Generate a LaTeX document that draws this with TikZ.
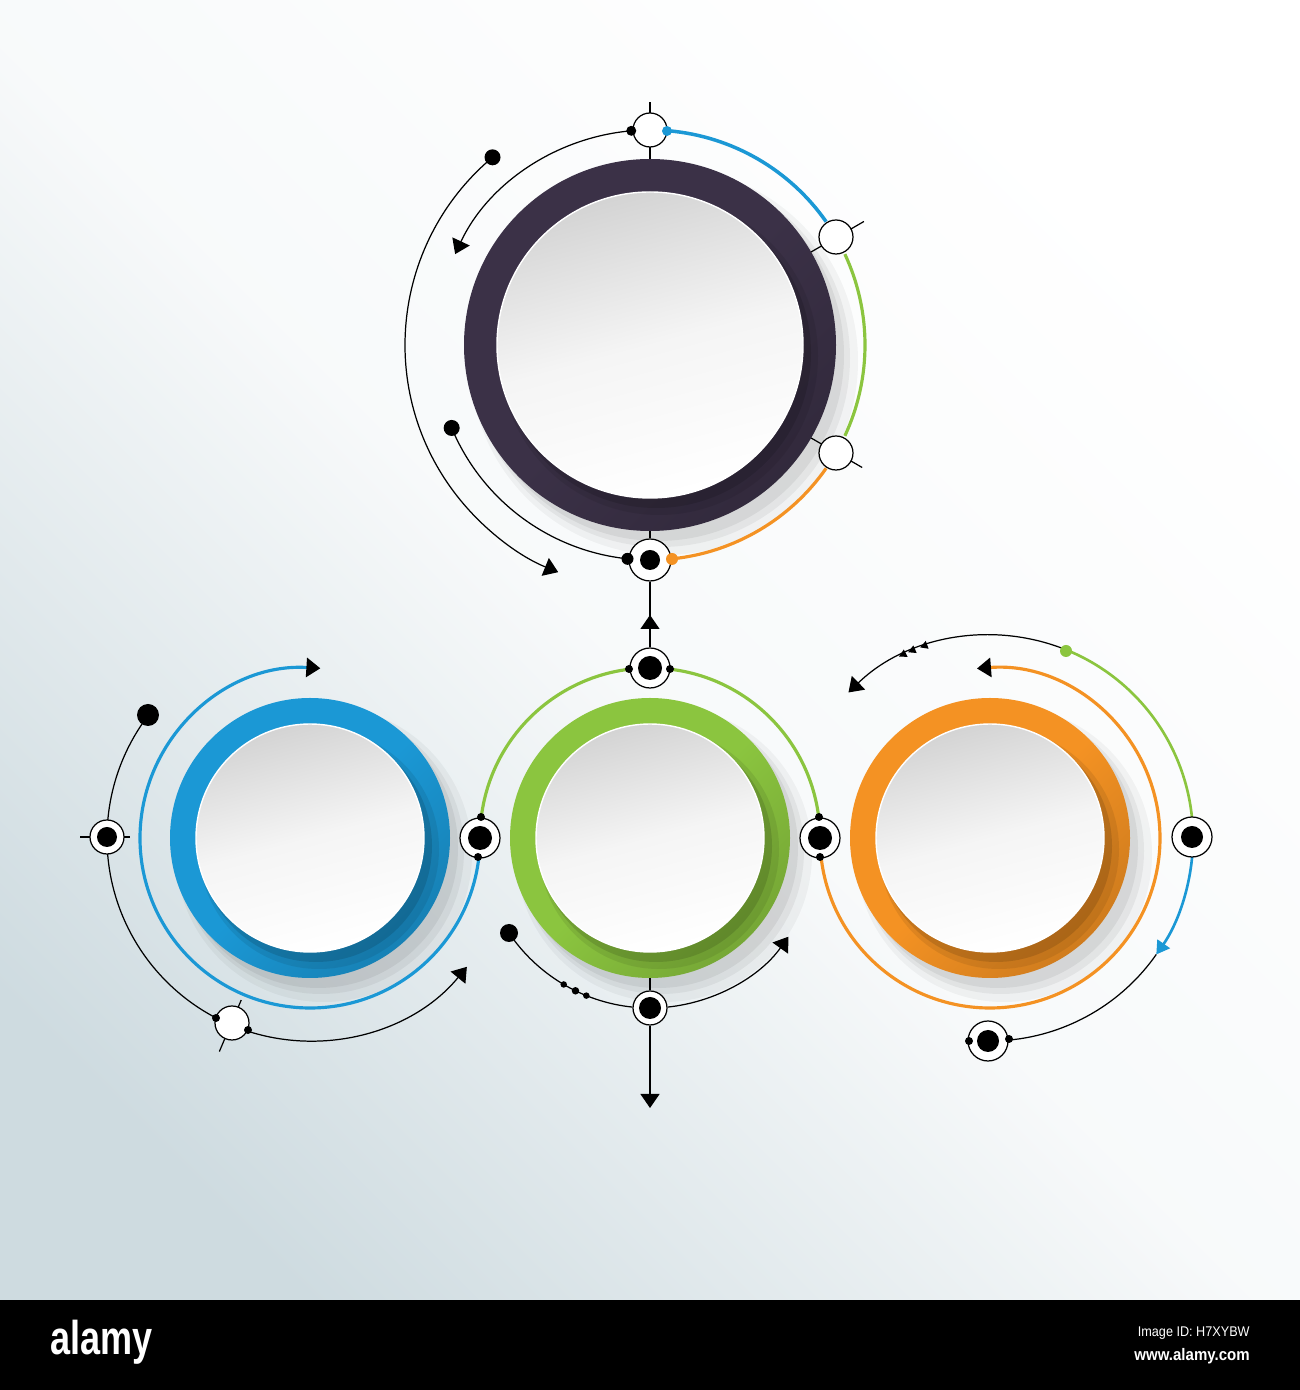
\documentclass[tikz,border=0pt]{standalone}
\usepackage{fontspec}
\setmainfont{Liberation Sans}
\usetikzlibrary{arrows.meta,decorations.markings}
\definecolor{ringdark}{RGB}{59,49,71}
\definecolor{cblue}{RGB}{27,152,213}
\definecolor{cgreen}{RGB}{139,197,63}
\definecolor{corange}{RGB}{244,146,35}
\definecolor{bgc}{RGB}{206,219,224}
\pgfdeclarelayer{bg}
\pgfdeclarelayer{lines}
\pgfsetlayers{bg,lines,main}
\begin{document}
\begin{tikzpicture}[x=0.02cm,y=0.02cm,
  wire/.style={line width=0.7pt, black},
  tri/.style={-{Triangle[length=0.28cm,width=0.38cm,color=black]}},
  hubo/.style={circle, draw=black, line width=0.7pt, fill=white, inner sep=0pt, minimum size=0.68cm},
  hub/.style 2 args={circle, draw=black, line width=0.7pt, fill=white, inner sep=0pt, minimum size=#1,
     path picture={\fill[black] (path picture bounding box.center) circle[radius=#2];}},
  dot/.style={circle, fill=black, inner sep=0pt, minimum size=#1},
]
\useasboundingbox (0,0) rectangle (1300,1390);
% centres
\coordinate (cT) at (650,1045);
\coordinate (cB) at (310,552);
\coordinate (cG) at (650,552);
\coordinate (cO) at (990,552);
\coordinate (tArrow) at (650,775);
\coordinate (gArrow) at (650,282);

% ---------- nodes ----------
\node[hubo] (T1) at (650,1260) {};
\node[hubo] (T2) at (836,1153) {};
\node[hubo] (T3) at (836,937) {};
\node[hub={0.84cm}{10}] (T4) at (650,830) {};
\node[hub={0.8cm}{12}] (G1) at (650,722) {};
\node[hub={0.8cm}{12}] (G2) at (480,552) {};
\node[hub={0.8cm}{12}] (G3) at (820,552) {};
\node[hub={0.68cm}{11}] (G4) at (650,382) {};
\node[hub={0.68cm}{10}] (L1) at (107,553) {};
\node[hubo] (L2) at (232,367) {};
\node[hub={0.8cm}{11}] (R1) at (1192,553) {};
\node[hub={0.8cm}{11}] (R2) at (988,349) {};

% small dots
\node[dot=0.2cm] (d1) at ([shift={(95:215)}]cT) {};
\node[dot=0.2cm, fill=cblue] (d2) at (667,1259) {};
\node[dot=0.24cm] (d3) at ([shift={(264:215)}]cT) {};
\node[dot=0.24cm, fill=corange] (d4) at (672,831) {};
\node[dot=0.16cm] (d5) at (629,721) {};
\node[dot=0.16cm] (d6) at (670,721) {};
\node[dot=0.16cm] (d7) at (481,573) {};
\node[dot=0.16cm] (d8) at (478,533) {};
\node[dot=0.16cm] (d9) at (819,573) {};
\node[dot=0.16cm] (d10) at (820,533) {};
\node[dot=0.16cm] (d11) at (216,372) {};
\node[dot=0.16cm] (d12) at (248,360) {};
\node[dot=0.16cm] (d13) at (969,349) {};
\node[dot=0.16cm] (d14) at (1009,351) {};
\node[dot=0.32cm] (TL1) at ([shift={(130:245)}]cT) {};
\node[dot=0.32cm] (TL2) at ([shift={(202.7:215)}]cT) {};
\node[dot=0.36cm] (Gd) at (509,457) {};
\node[dot=0.44cm] (Ld) at (148,675) {};
\node[dot=0.24cm, fill=cgreen] (Od) at (1066,739) {};
\node[dot=0.13cm] (s1) at ([shift={(239.5:170)}]cG) {};
\node[dot=0.15cm] (s2) at ([shift={(244:170)}]cG) {};
\node[dot=0.13cm] (s3) at ([shift={(248:170)}]cG) {};

% ---------- footer text ----------
\node[anchor=base west, text=white, inner sep=0pt, font=\bfseries\fontsize{27pt}{27pt}\selectfont] (logo) at (50,35) {\scalebox{0.76}[1]{alamy}};
\node[anchor=base east, text=white, inner sep=0pt, font=\fontsize{8pt}{8pt}\selectfont] (imgid) at (1250,53) {\scalebox{0.9}[1]{Image ID: H7XYBW}};
\node[anchor=base east, text=white, inner sep=0pt, font=\bfseries\fontsize{9.5pt}{9.5pt}\selectfont] (url) at (1250,30) {\scalebox{0.9}[1]{www.alamy.com}};

% ---------- background and rings ----------
\begin{pgfonlayer}{bg}
\shade[top color=white, bottom color=bgc, middle color=white!85!bgc, shading angle=-45] (0,0) rectangle (1300,1390);
\fill[black] (0,0) rectangle (1300,90);
\foreach \cx/\cy/\R/\r/\col in {650/1045/186/153/ringdark, 310/552/140/114/cblue, 650/552/140/114/cgreen, 990/552/140/114/corange}{
  \fill[black, opacity=0.04] (\cx+14,\cy-16) circle[radius=\R+8];
  \fill[black, opacity=0.05] (\cx+11,\cy-13) circle[radius=\R+3];
  \fill[black, opacity=0.06] (\cx+8,\cy-10) circle[radius=\R];
  \shade[top color=\col, bottom color=\col!85!black, middle color=\col, shading angle=45] (\cx,\cy) circle[radius=\R];
  \fill[black, opacity=0.08] (\cx+9,\cy-11) circle[radius=\r+6];
  \fill[black, opacity=0.12] (\cx+6,\cy-8) circle[radius=\r+2];
  \shade[top color=black!17, bottom color=white, middle color=black!4, shading angle=15] (\cx,\cy) circle[radius=\r];
  \draw[white, line width=0.8pt] (\cx,\cy) circle[radius=\r];
}
\end{pgfonlayer}

% ---------- circuit lines ----------
\begin{pgfonlayer}{lines}
% top circle
\draw[wire] (650,1231) -- (650,1288);
\draw[wire] ([shift={(30:186)}]cT) -- ([shift={(30:247)}]cT);
\draw[wire] ([shift={(-30:186)}]cT) -- ([shift={(-30:245)}]cT);
\draw[cblue, line width=2pt] ([shift={(85:215)}]cT) arc[start angle=85, end angle=35, radius=215];
\draw[cgreen, line width=1.8pt] ([shift={(25:215)}]cT) arc[start angle=25, end angle=-25, radius=215];
\draw[corange, line width=1.8pt] ([shift={(-35:215)}]cT) arc[start angle=-35, end angle=-84, radius=215];
\draw[wire, tri] ([shift={(130:245)}]cT) arc[start angle=130, end angle=248, radius=245];
\draw[wire, tri] ([shift={(95:215)}]cT) arc[start angle=95, end angle=155, radius=215];
\draw[wire] ([shift={(202.7:215)}]cT) arc[start angle=202.7, end angle=264, radius=215];
\draw[wire] (650,859) -- (T4);
\draw[wire] (T4) -- (G1);
\draw[wire, tri] (G1) -- (tArrow);
% green circle
\draw[cgreen, line width=1.8pt] ([shift={(173:170)}]cG) arc[start angle=173, end angle=7, radius=170];
\draw[wire] (650,412) -- (G4);
\draw[wire, tri] (G4) -- (gArrow);
\draw[wire] ([shift={(214:170)}]cG) arc[start angle=214, end angle=264, radius=170];
\draw[wire, tri] ([shift={(276:170)}]cG) arc[start angle=276, end angle=324.5, radius=170];
% blue circle
\draw[cblue, line width=1.8pt, tri] ([shift={(-6.5:170)}]cB) arc[start angle=-6.5, end angle=-273.5, radius=170];
\draw[wire] ([shift={(142.8:203)}]cB) arc[start angle=142.8, end angle=242.4, radius=203];
\draw[wire, tri] ([shift={(252:203)}]cB) arc[start angle=252, end angle=320.6, radius=203];
\draw[wire] (80,553) -- (130,553);
\draw[wire] ([shift={(247:176)}]cB) -- ([shift={(247:232)}]cB);
% orange circle
\draw[corange, line width=1.8pt, tri] ([shift={(186.4:170)}]cO) arc[start angle=186.4, end angle=454.4, radius=170];
\draw[cgreen, line width=1.5pt] ([shift={(67.9:203)}]cO) arc[start angle=67.9, end angle=3, radius=203];
\draw[cblue, line width=1.5pt, -{Triangle[length=0.26cm,width=0.3cm]}] ([shift={(-4:203)}]cO) arc[start angle=-4, end angle=-35, radius=203];
\draw[wire] ([shift={(-35:203)}]cO) arc[start angle=-35, end angle=-84.6, radius=203];
\draw[wire, tri, postaction={decorate}, decoration={markings,
   mark=at position 0.637 with {\arrow{Triangle[length=0.15cm,width=0.16cm]}},
   mark=at position 0.692 with {\arrow{Triangle[length=0.15cm,width=0.16cm]}},
   mark=at position 0.735 with {\arrow{Triangle[length=0.15cm,width=0.16cm]}}}]
   ([shift={(67.9:203)}]cO) arc[start angle=67.9, end angle=134.2, radius=203];
\end{pgfonlayer}
\end{tikzpicture}
\end{document}
